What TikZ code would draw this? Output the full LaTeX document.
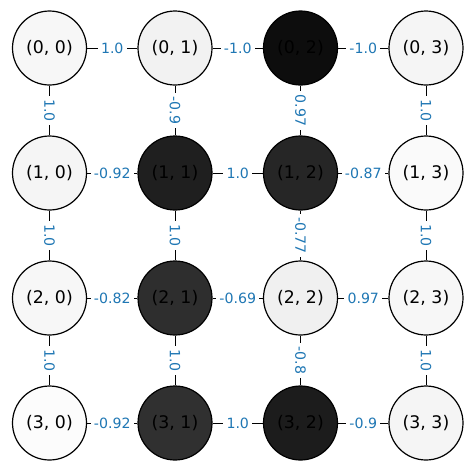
\documentclass[tikz,border=0pt]{standalone}
\usepackage{xcolor}
\usepackage{fontspec}
\setmainfont{DejaVu Sans}
\usepackage{tikz}
\definecolor{edgeblue}{HTML}{1F77B4}

\begin{document}
\begin{tikzpicture}[x=0.75pt,y=0.75pt,
        site/.style={circle,draw=black,line width=0.9pt,minimum size=55.5pt,inner sep=0pt,
            font=\fontsize{13}{15}\selectfont},
        weight/.style={fill=white,inner sep=2.5pt,text=edgeblue,
            font=\fontsize{10.6}{12}\selectfont},
        vweight/.style={weight,rotate=-90},
        bond/.style={line width=0.75pt}]
        \useasboundingbox (0,0) rectangle (474,-472);
        % sites
        \node [site,fill=black!3] (n00) at (49.5,-48) {(0, 0)};
        \node [site,fill=black!5] (n01) at (175,-48) {(0, 1)};
        \node [site,fill=black!95] (n02) at (300.5,-48) {(0, 2)};
        \node [site,fill=black!4] (n03) at (426,-48) {(0, 3)};
        \node [site,fill=black!4] (n10) at (49.5,-173) {(1, 0)};
        \node [site,fill=black!88] (n11) at (175,-173) {(1, 1)};
        \node [site,fill=black!85] (n12) at (300.5,-173) {(1, 2)};
        \node [site,fill=black!2] (n13) at (426,-173) {(1, 3)};
        \node [site,fill=black!3] (n20) at (49.5,-298) {(2, 0)};
        \node [site,fill=black!82] (n21) at (175,-298) {(2, 1)};
        \node [site,fill=black!6] (n22) at (300.5,-298) {(2, 2)};
        \node [site,fill=black!3] (n23) at (426,-298) {(2, 3)};
        \node [site,fill=black!1] (n30) at (49.5,-423) {(3, 0)};
        \node [site,fill=black!81] (n31) at (175,-423) {(3, 1)};
        \node [site,fill=black!89] (n32) at (300.5,-423) {(3, 2)};
        \node [site,fill=black!4] (n33) at (426,-423) {(3, 3)};
        % horizontal bonds
        \draw [bond] (n00) -- node [weight] {1.0} (n01);
        \draw [bond] (n01) -- node [weight] {-1.0} (n02);
        \draw [bond] (n02) -- node [weight] {-1.0} (n03);
        \draw [bond] (n10) -- node [weight] {-0.92} (n11);
        \draw [bond] (n11) -- node [weight] {1.0} (n12);
        \draw [bond] (n12) -- node [weight] {-0.87} (n13);
        \draw [bond] (n20) -- node [weight] {-0.82} (n21);
        \draw [bond] (n21) -- node [weight] {-0.69} (n22);
        \draw [bond] (n22) -- node [weight] {0.97} (n23);
        \draw [bond] (n30) -- node [weight] {-0.92} (n31);
        \draw [bond] (n31) -- node [weight] {1.0} (n32);
        \draw [bond] (n32) -- node [weight] {-0.9} (n33);
        % vertical bonds
        \draw [bond] (n00) -- node [vweight] {1.0} (n10);
        \draw [bond] (n10) -- node [vweight] {1.0} (n20);
        \draw [bond] (n20) -- node [vweight] {1.0} (n30);
        \draw [bond] (n01) -- node [vweight] {-0.9} (n11);
        \draw [bond] (n11) -- node [vweight] {1.0} (n21);
        \draw [bond] (n21) -- node [vweight] {1.0} (n31);
        \draw [bond] (n02) -- node [vweight] {0.97} (n12);
        \draw [bond] (n12) -- node [vweight] {-0.77} (n22);
        \draw [bond] (n22) -- node [vweight] {-0.8} (n32);
        \draw [bond] (n03) -- node [vweight] {1.0} (n13);
        \draw [bond] (n13) -- node [vweight] {1.0} (n23);
        \draw [bond] (n23) -- node [vweight] {1.0} (n33);
    \end{tikzpicture}
\end{document}
